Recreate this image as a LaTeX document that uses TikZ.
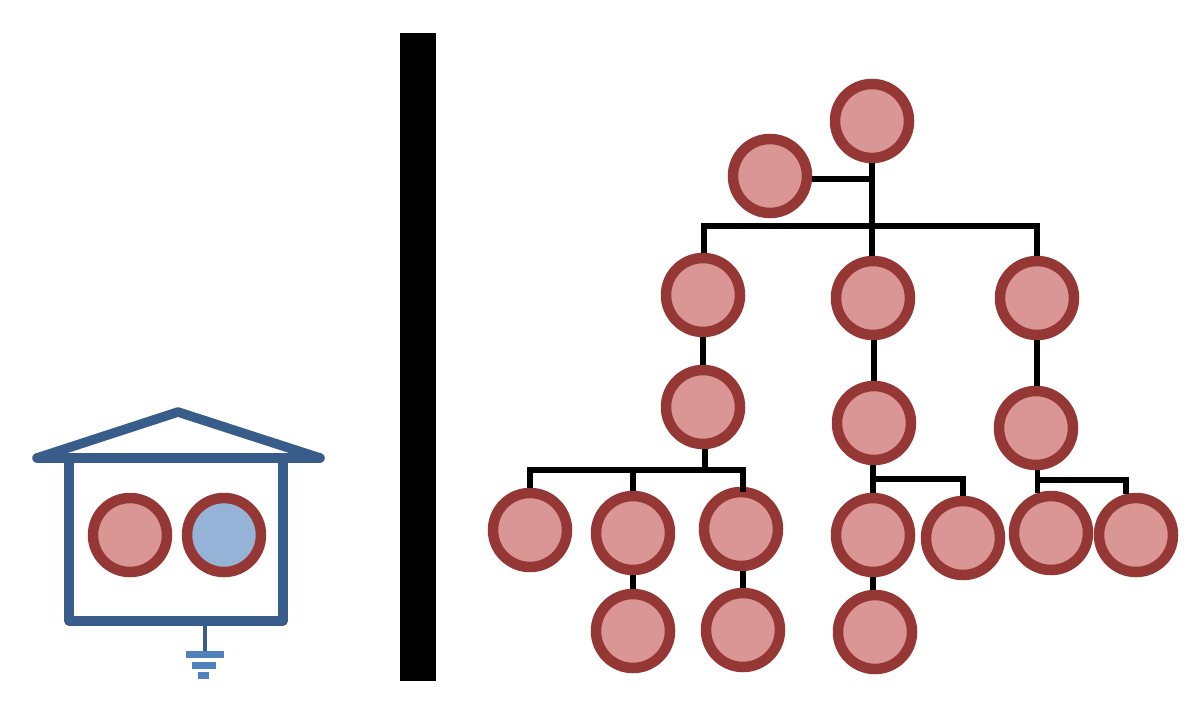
\documentclass[tikz,border=0pt]{standalone}
\definecolor{ring}{HTML}{953735}
\definecolor{pinkfill}{HTML}{D99694}
\definecolor{bluefill}{HTML}{95B3D7}
\definecolor{housec}{HTML}{385D8A}
\definecolor{groundc}{HTML}{4F81BD}
\begin{document}
\begin{tikzpicture}[x=1pt,y=-1pt,
  cnode/.style={circle,draw=ring,fill=pinkfill,line width=10.5pt,minimum size=74pt,inner sep=0pt},
  conn/.style={line width=5.5pt,draw=black},
  housel/.style={draw=housec,line width=9.5pt,line cap=round,line join=round}]
\useasboundingbox (0,0) rectangle (1200,721);

% divider bar
\fill[black] (400,33) rectangle (436,681);

% house
\draw[housel] (37,458) -- (178,412) -- (320,458);
\draw[housel] (37,458) -- (320,458);
\draw[housel] (69,458) -- (69,621) -- (283,621) -- (283,458);
\coordinate (hb) at (205,621);
\coordinate (gt) at (205,652);
\draw[draw=housec,line width=4.5pt] (hb) -- (gt);
\fill[groundc] (186,651) rectangle (224,658);
\fill[groundc] (192,662) rectangle (216,669);
\fill[groundc] (198,672) rectangle (209,679);
\node[cnode] (h1) at (130,535) {};
\node[cnode,fill=bluefill] (h2) at (224,535) {};

% tree nodes
\node[cnode] (r) at (872,121) {};
\node[cnode] (s) at (770,176) {};
\node[cnode] (a2) at (703,295) {};
\node[cnode] (b2) at (873,298) {};
\node[cnode] (c2) at (1037,298) {};
\node[cnode] (a3) at (703,407) {};
\node[cnode] (b3) at (874,423) {};
\node[cnode] (c3) at (1036,428) {};
\node[cnode] (a4) at (530,530) {};
\node[cnode] (a5) at (633,533) {};
\node[cnode] (a6) at (741,529) {};
\node[cnode] (a7) at (633,631) {};
\node[cnode] (a8) at (743,630) {};
\node[cnode] (b4) at (873,535) {};
\node[cnode] (b5) at (963,538) {};
\node[cnode] (b6) at (875,632) {};
\node[cnode] (c4) at (1051,533) {};
\node[cnode] (c5) at (1136,535) {};

% connectors
\coordinate (j1) at (872,226);
\draw[conn] (r.south) -- (r.south |- b2.north);
\draw[conn] (s.east |- 0,179) -- (872,179);
\draw[conn] (a2.north -| 704,0) |- (j1) -| (c2.north);
\draw[conn] (a2.south) -- (a3.north);
\draw[conn] (b3.north |- b2.south) -- (b3.north);
\draw[conn] (c2.south) -- (c2.south |- c3.north);

\coordinate (j2) at (705,470);
\draw[conn] (j2 |- a3.south) -- (j2);
\draw[conn] (a4.north) |- (j2) -| (743,492);
\draw[conn] (j2 -| a5.north) -- (a5.north);
\draw[conn] (a5.south) -- (a7.north);
\draw[conn] (a8.north |- a6.south) -- (a8.north);

\coordinate (j3) at (873,479);
\draw[conn] (b4.north |- b3.south) -- (b4.north);
\draw[conn] (j3) -| (b5.north);
\draw[conn] (b4.south) -- (b4.south |- b6.north);

\coordinate (j4) at (1037,480);
\draw[conn] (c4.109 |- c3.south) -- (c4.109);
\draw[conn] (j4) -| (c5.104);
\end{tikzpicture}
\end{document}
